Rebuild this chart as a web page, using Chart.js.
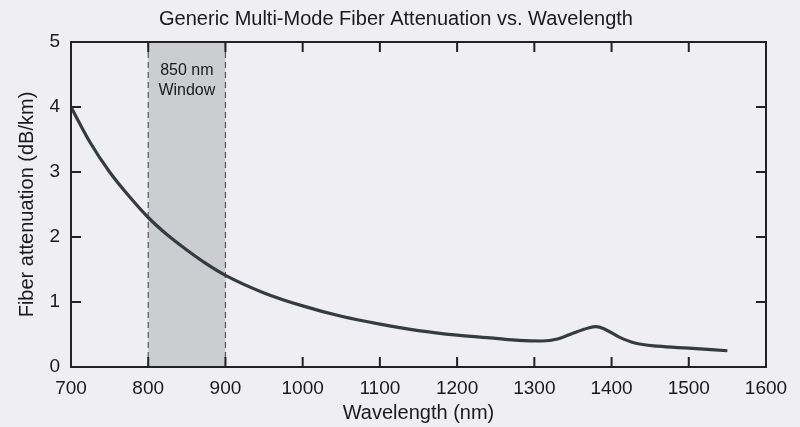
<!DOCTYPE html>
<html>
<head>
<meta charset="utf-8">
<script src="https://cdn.jsdelivr.net/npm/chart.js@4/dist/chart.umd.min.js"></script>
<style>
  html, body { margin: 0; padding: 0; background: #eeeef3; }
  #wrap { width: 800px; height: 427px; }
</style>
</head>
<body>
<div id="wrap"><canvas id="attnChart"></canvas></div>
<script>
// Values
const wavelengths = [700, 725, 750, 775, 800, 825, 850, 875, 900, 950, 1000, 1050, 1100, 1150, 1200, 1250, 1280, 1310, 1330, 1350, 1370, 1380, 1390, 1410, 1430, 1460, 1500, 1550];
const attenuation = [4.00, 3.45, 3.00, 2.63, 2.30, 2.03, 1.80, 1.59, 1.41, 1.14, 0.94, 0.78, 0.66, 0.56, 0.49, 0.44, 0.41, 0.40, 0.43, 0.52, 0.60, 0.62, 0.59, 0.46, 0.37, 0.32, 0.29, 0.25];
const xTicks = [700, 800, 900, 1000, 1100, 1200, 1300, 1400, 1500, 1600];
const yTicks = [0, 1, 2, 3, 4, 5];
const windowRange = [800, 900];
const windowLabel = ['850 nm', 'Window'];

const FONT = 'Liberation Sans, Arial, Helvetica, sans-serif';

// Draws the shaded window behind the curve
const windowPlugin = {
  id: 'windowPlugin',
  beforeDatasetsDraw(chart) {
    const { ctx, chartArea: a, scales: { x } } = chart;
    const x0 = x.getPixelForValue(windowRange[0]);
    const x1 = x.getPixelForValue(windowRange[1]);
    ctx.save();
    ctx.fillStyle = '#cbcdd1';
    ctx.fillRect(x0, a.top, x1 - x0, a.bottom - a.top);
    ctx.strokeStyle = '#555';
    ctx.lineWidth = 1.2;
    ctx.setLineDash([6, 4]);
    ctx.beginPath();
    ctx.moveTo(x0, a.top); ctx.lineTo(x0, a.bottom);
    ctx.moveTo(x1, a.top); ctx.lineTo(x1, a.bottom);
    ctx.stroke();
    ctx.setLineDash([]);
    ctx.fillStyle = '#1a1a1a';
    ctx.font = '16px ' + FONT;
    ctx.textAlign = 'center';
    ctx.textBaseline = 'middle';
    const cx = (x0 + x1) / 2;
    ctx.fillText(windowLabel[0], cx, a.top + 29);
    ctx.fillText(windowLabel[1], cx, a.top + 49);
    ctx.restore();
  }
};

// Box frame with inward ticks on all four sides
const framePlugin = {
  id: 'framePlugin',
  afterDatasetsDraw(chart) {
    const { ctx, chartArea: a, scales: { x, y } } = chart;
    const len = 10;
    ctx.save();
    ctx.strokeStyle = '#222';
    ctx.lineWidth = 2;
    ctx.strokeRect(a.left, a.top, a.right - a.left, a.bottom - a.top);
    ctx.beginPath();
    xTicks.forEach(v => {
      const px = x.getPixelForValue(v);
      ctx.moveTo(px, a.bottom); ctx.lineTo(px, a.bottom - len);
      ctx.moveTo(px, a.top); ctx.lineTo(px, a.top + len);
    });
    yTicks.forEach(v => {
      const py = y.getPixelForValue(v);
      ctx.moveTo(a.left, py); ctx.lineTo(a.left + len, py);
      ctx.moveTo(a.right, py); ctx.lineTo(a.right - len, py);
    });
    ctx.stroke();
    ctx.restore();
  }
};

new Chart(document.getElementById('attnChart'), {
  type: 'scatter',
  data: {
    datasets: [{
      data: wavelengths.map((w, i) => ({ x: w, y: attenuation[i] })),
      showLine: true,
      borderColor: '#343c40',
      borderWidth: 3.2,
      pointRadius: 0,
      cubicInterpolationMode: 'monotone',
      fill: false
    }]
  },
  options: {
    responsive: true,
    maintainAspectRatio: false,
    animation: false,
    layout: { padding: { top: 7, right: 12, left: 4, bottom: 2 } },
    plugins: {
      legend: { display: false },
      tooltip: { enabled: false },
      title: {
        display: true,
        text: 'Generic Multi-Mode Fiber Attenuation vs. Wavelength',
        color: '#1a1a1a',
        font: { family: FONT, size: 20, weight: 'normal' },
        padding: { top: 0, bottom: 11 }
      }
    },
    scales: {
      x: {
        type: 'linear',
        min: 700,
        max: 1600,
        afterBuildTicks(scale) { scale.ticks = xTicks.map(v => ({ value: v })); },
        afterFit(scale) { scale.height = 58; },
        grid: { display: false, drawTicks: false },
        border: { display: false },
        ticks: {
          color: '#1a1a1a',
          font: { family: FONT, size: 19 },
          padding: 10,
          callback: v => String(v)
        },
        title: {
          display: true,
          text: 'Wavelength (nm)',
          color: '#1a1a1a',
          font: { family: FONT, size: 20 },
          padding: { top: 0, bottom: 0 }
        }
      },
      y: {
        min: 0,
        max: 5,
        afterBuildTicks(scale) { scale.ticks = yTicks.map(v => ({ value: v })); },
        afterFit(scale) { scale.width = 67; },
        grid: { display: false, drawTicks: false },
        border: { display: false },
        ticks: {
          color: '#1a1a1a',
          font: { family: FONT, size: 19 },
          padding: 11,
          callback: v => String(v)
        },
        title: {
          display: true,
          text: 'Fiber attenuation (dB/km)',
          color: '#1a1a1a',
          font: { family: FONT, size: 20 },
          padding: { top: 11, bottom: 10 }
        }
      },
      // empty right-hand scale, only keeps the plot box clear of the right edge
      yRight: {
        position: 'right',
        min: 0,
        max: 5,
        afterFit(scale) { scale.width = 22; },
        grid: { display: false, drawTicks: false },
        border: { display: false },
        ticks: { display: false }
      }
    }
  },
  plugins: [windowPlugin, framePlugin]
});
</script>
</body>
</html>
